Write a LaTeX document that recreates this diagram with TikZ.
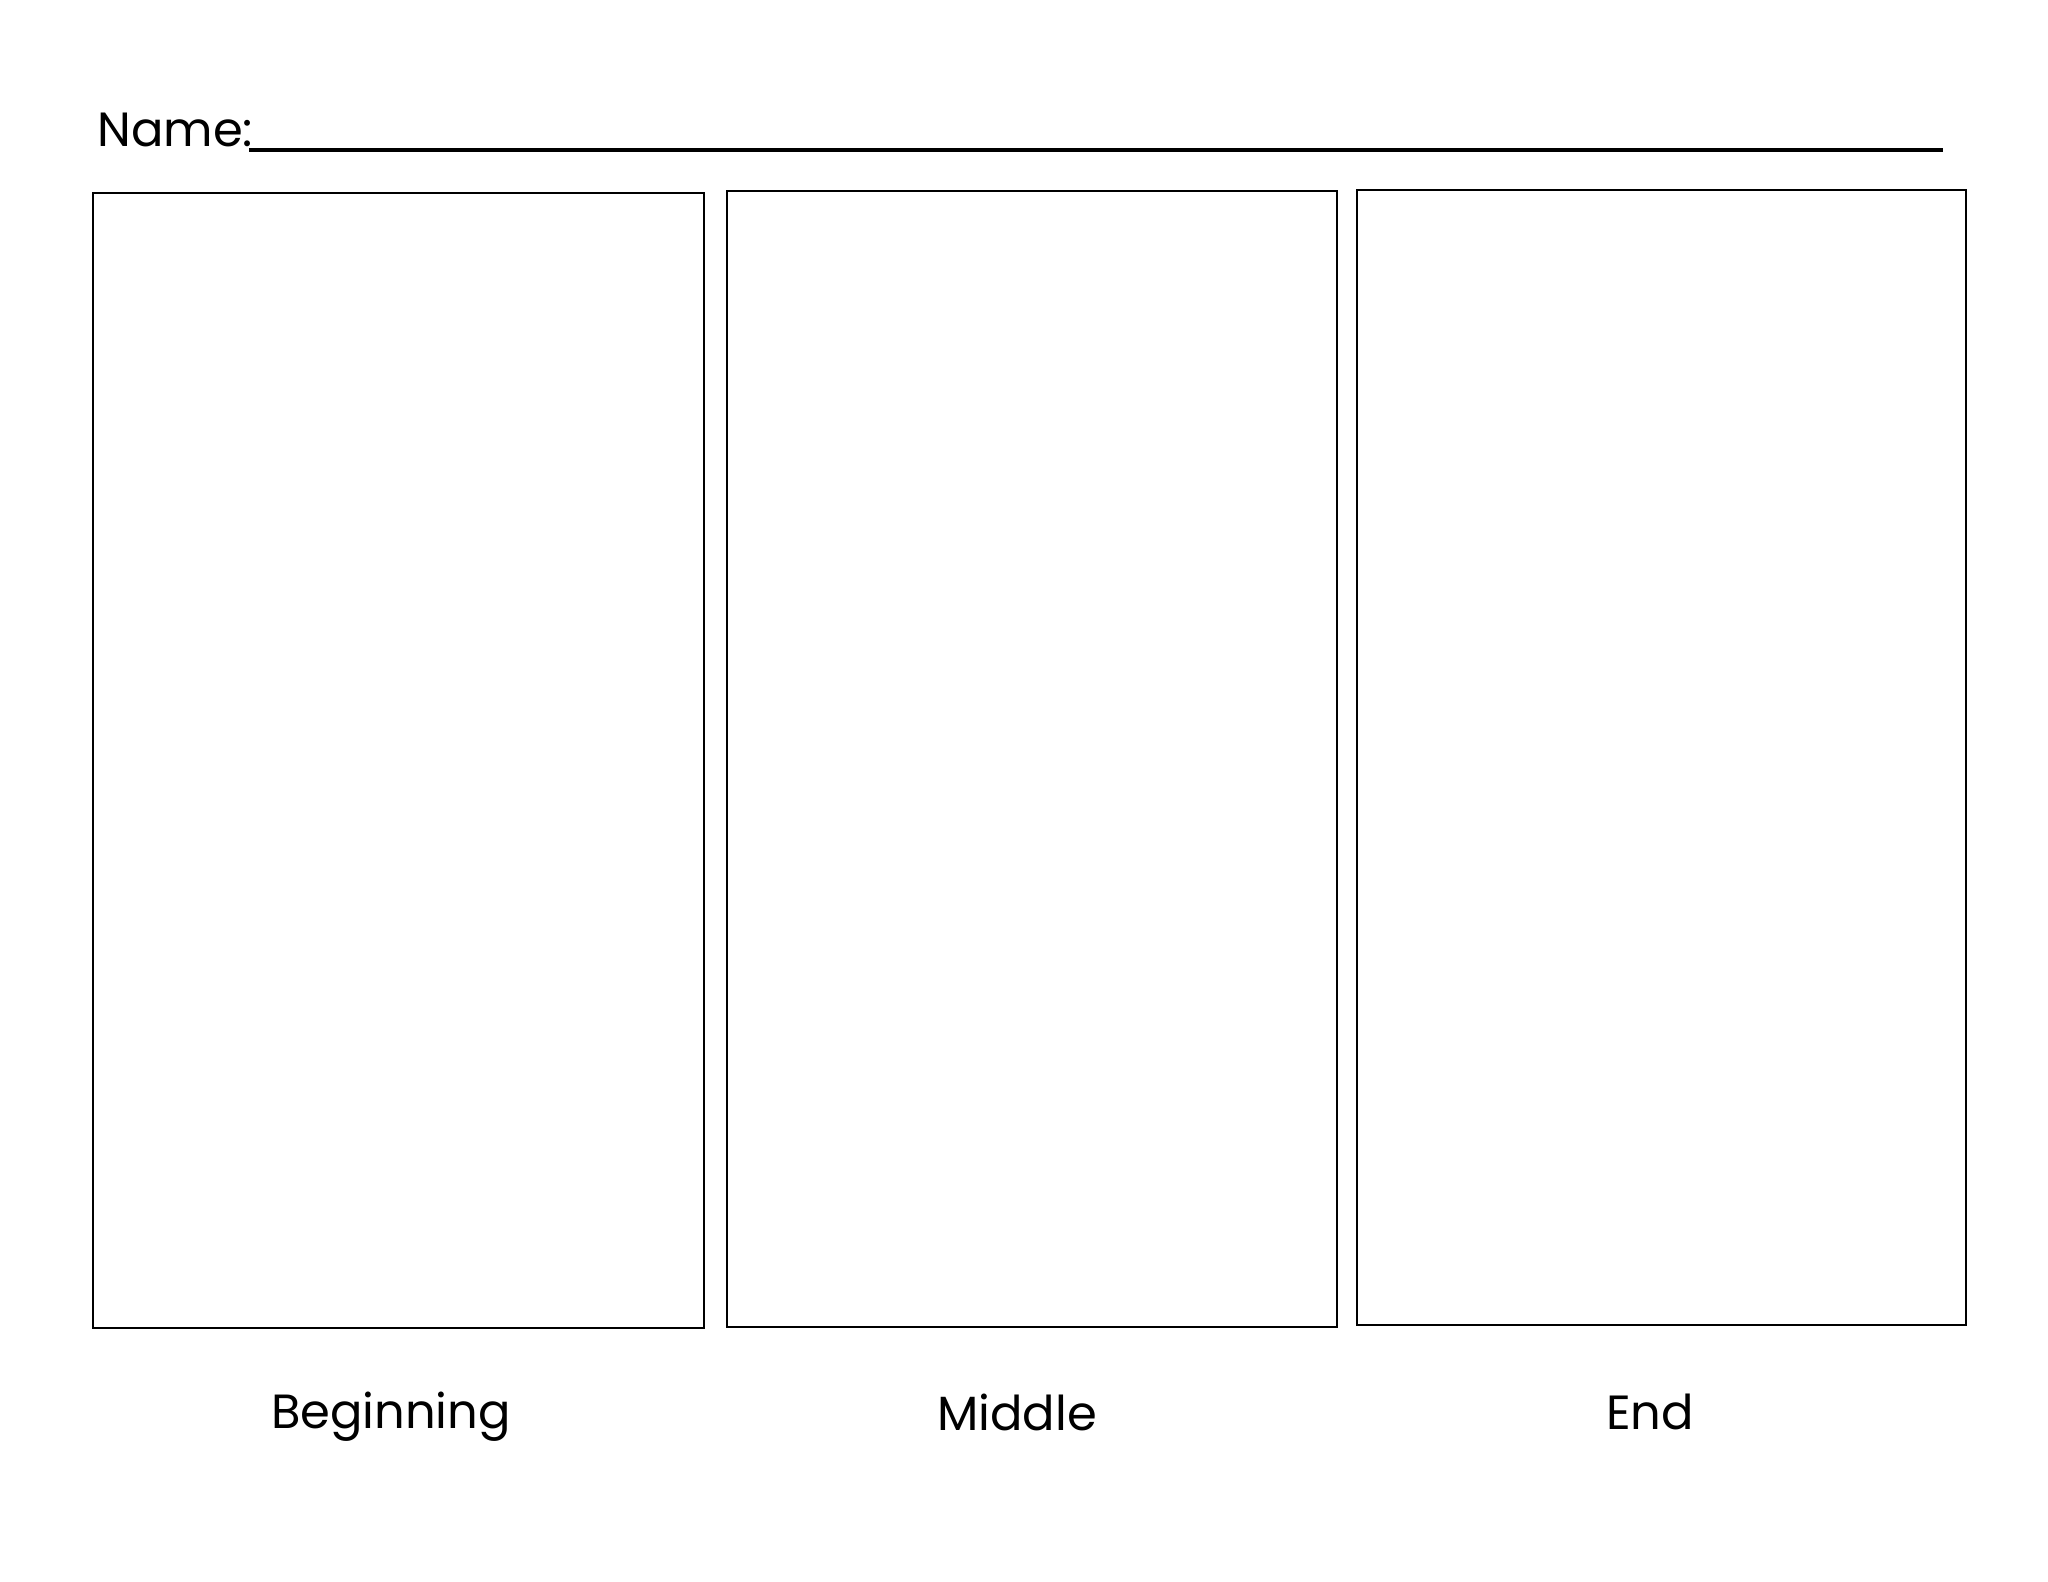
\documentclass[tikz,border=0pt]{standalone}
\usepackage{fontspec}
\setmainfont{Poppins}
\begin{document}
\begin{tikzpicture}[x=0.5pt,y=-0.5pt,
  panel/.style={draw=black,line width=1.3pt},
  lbl/.style={font=\fontsize{24}{28}\selectfont,inner sep=0pt}]
\useasboundingbox (0,0) rectangle (2048,1582);
\node[lbl,anchor=base west] (name) at (97,147) {Name:};
\coordinate (l1) at (249,150);
\coordinate (l2) at (1943,150);
\draw[line width=1.6pt] (l1) -- (l2);
\draw[panel] (93,193) rectangle (704,1328);
\draw[panel] (727,191) rectangle (1337,1327);
\draw[panel] (1357,190) rectangle (1966,1325);
\node[lbl] (b) at (391,1417) {Beginning};
\node[lbl] (m) at (1017,1412) {Middle};
\node[lbl] (e) at (1650,1412) {End};
\end{tikzpicture}
\end{document}
